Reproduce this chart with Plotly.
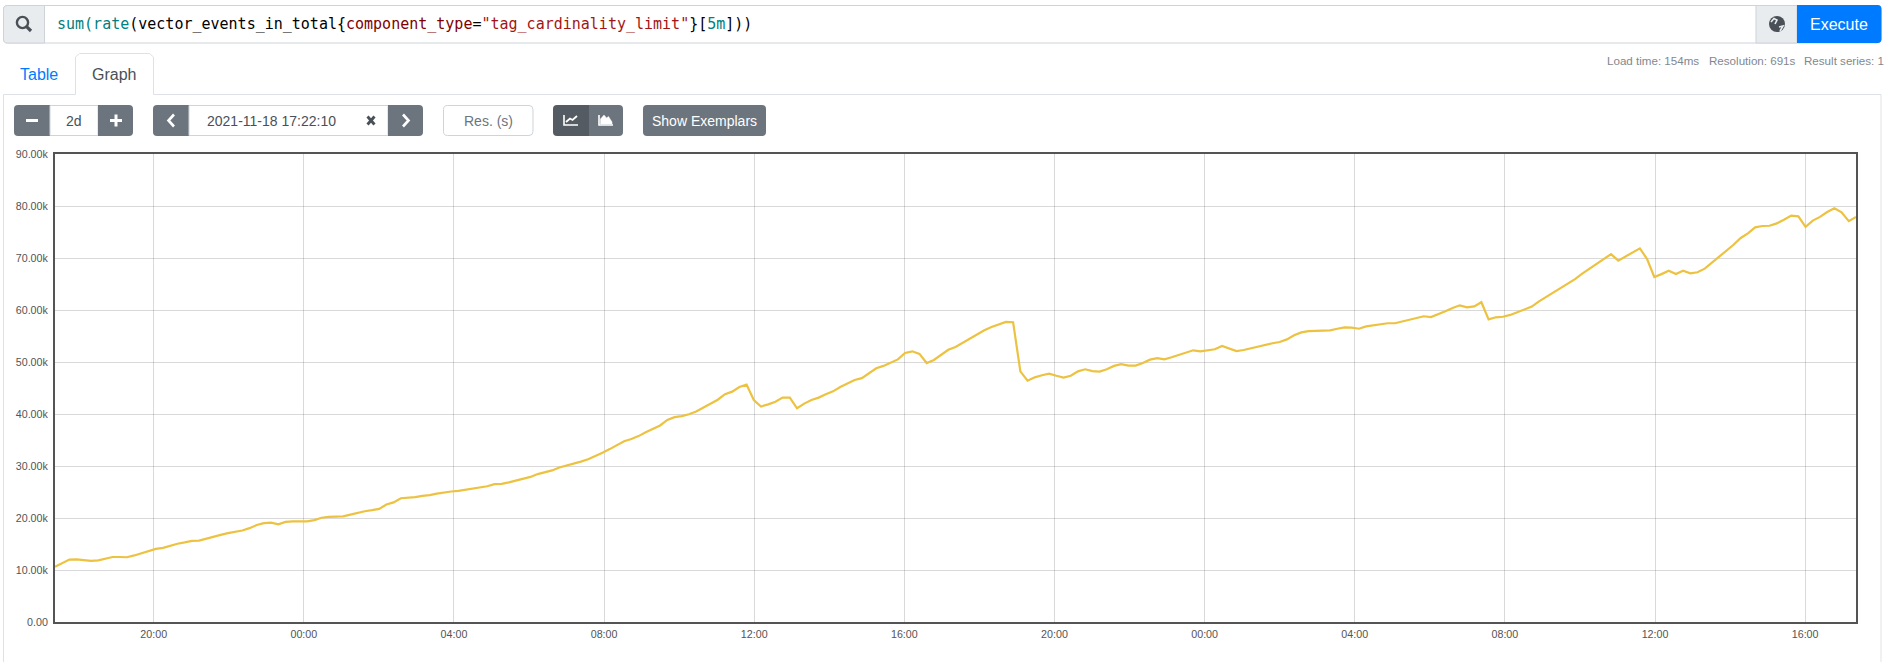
import pandas as pd
import plotly.graph_objects as go

START = "2021-11-16 17:22:10"
STEP_SECONDS = 691
events_k = [
10.64,11.35,12.0,12.05,11.85,11.75,11.85,12.25,12.5,12.5,12.45,12.8,13.25,13.6,14.05,14.25,14.7,15.05,15.3,15.6,15.65,
16.05,16.4,16.75,17.1,17.3,17.6,18.05,18.65,19.0,19.1,18.8,19.25,19.35,19.35,19.35,19.6,20.05,20.2,20.2,20.3,20.65,
21.0,21.3,21.5,21.75,22.6,23.0,23.8,23.9,24.0,24.25,24.4,24.7,24.95,25.1,25.2,25.4,25.6,25.85,26.1,26.5,26.55,26.85,
27.2,27.5,27.9,28.45,28.8,29.15,29.7,30.05,30.45,30.85,31.3,31.85,32.55,33.25,34.05,34.75,35.2,35.75,36.5,37.2,
37.8,38.85,39.4,39.6,39.95,40.5,41.2,42.0,42.75,43.8,44.3,45.2,45.65,42.7,41.45,41.85,42.35,43.15,43.15,41.1,42.0,
42.7,43.15,43.8,44.35,45.2,45.9,46.55,46.9,47.9,48.8,49.25,49.85,50.5,51.75,52.05,51.55,49.8,50.4,51.45,52.35,
52.9,53.7,54.55,55.3,56.1,56.75,57.2,57.7,57.65,48.2,46.4,47.05,47.45,47.75,47.35,47.0,47.35,48.2,48.6,48.25,48.15,
48.6,49.25,49.6,49.3,49.3,49.8,50.45,50.75,50.5,50.9,51.3,51.8,52.25,52.05,52.25,52.45,53.1,52.65,52.1,52.3,52.65,
53.0,53.35,53.6,53.85,54.35,55.15,55.7,55.95,56.0,55.95,56.1,56.4,56.65,56.6,56.4,56.85,57.05,57.3,57.45,57.45,
57.8,58.15,58.5,58.8,58.65,59.15,59.75,60.4,60.9,60.5,60.7,61.5,58.2,58.6,58.7,59.05,59.6,60.2,60.65,61.65,62.5,63.4,
64.15,65.15,65.95,67.0,67.95,68.9,69.85,70.75,69.5,70.25,71.0,71.85,69.8,66.35,66.9,67.55,66.9,67.55,67.05,67.25,
67.95,69.1,70.2,71.3,72.55,73.85,74.75,75.9,76.15,76.2,76.65,77.35,78.15,78.0,76.0,77.2,77.9,78.85,79.55,78.8,77.1,77.9,
]
y_tick_vals = [0, 10000, 20000, 30000, 40000, 50000, 60000, 70000, 80000, 90000]
y_tick_text = ["0.00", "10.00k", "20.00k", "30.00k", "40.00k", "50.00k", "60.00k", "70.00k", "80.00k", "90.00k"]
x_tick_vals = ["2021-11-16 20:00", "2021-11-17 00:00", "2021-11-17 04:00", "2021-11-17 08:00", "2021-11-17 12:00",
               "2021-11-17 16:00", "2021-11-17 20:00", "2021-11-18 00:00", "2021-11-18 04:00", "2021-11-18 08:00",
               "2021-11-18 12:00", "2021-11-18 16:00"]
x_tick_text = ["20:00", "00:00", "04:00", "08:00", "12:00", "16:00", "20:00", "00:00", "04:00", "08:00", "12:00", "16:00"]

W, H = 1886, 662
L, R, T, B = 55, 30, 154, 40
PW, PH = W - L - R, H - T - B
SANS = "Liberation Sans"
MONO = "DejaVu Sans Mono"


def X(p):
    return (p - L) / PW


def Y(p):
    return 1 - (p - T) / PH


shapes = []
annotations = []


def rrect(x0, y0, x1, y1, fill=None, line=None, r=(4, 4, 4, 4), lw=1):
    tl, tr, br, bl = r
    def pt(x, y):
        return f"{X(x):.6f} {Y(y):.6f}"
    d = f"M {pt(x0 + tl, y0)} L {pt(x1 - tr, y0)} Q {pt(x1, y0)} {pt(x1, y0 + tr)} "
    d += f"L {pt(x1, y1 - br)} Q {pt(x1, y1)} {pt(x1 - br, y1)} "
    d += f"L {pt(x0 + bl, y1)} Q {pt(x0, y1)} {pt(x0, y1 - bl)} "
    d += f"L {pt(x0, y0 + tl)} Q {pt(x0, y0)} {pt(x0 + tl, y0)} Z"
    shapes.append(dict(type="path", path=d, xref="paper", yref="paper", fillcolor=fill or "rgba(0,0,0,0)",
                       line=dict(color=line or "rgba(0,0,0,0)", width=lw if line else 0), layer="above"))


def poly(points, color, lw=2, closed=False, fill=None):
    d = "M " + " L ".join(f"{X(a):.6f} {Y(b):.6f}" for a, b in points)
    if closed:
        d += " Z"
    shapes.append(dict(type="path", path=d, xref="paper", yref="paper", fillcolor=fill or "rgba(0,0,0,0)",
                       line=dict(color=color, width=lw), layer="above"))


def circle(cx, cy, rad, fill=None, line=None, lw=1):
    shapes.append(dict(type="circle", xref="paper", yref="paper", x0=X(cx - rad), x1=X(cx + rad),
                       y0=Y(cy + rad), y1=Y(cy - rad), fillcolor=fill or "rgba(0,0,0,0)",
                       line=dict(color=line or "rgba(0,0,0,0)", width=lw if line else 0), layer="above"))


def text(x, y, s, size=14, color="#495057", anchor="center", font=SANS):
    annotations.append(dict(x=X(x), y=Y(y), xref="paper", yref="paper", text=s, showarrow=False, xanchor=anchor,
                            yanchor="middle", align="left", borderpad=0, borderwidth=0,
                            font=dict(family=font, size=size, color=color)))


BORDER = "#ced4da"
TAB = "#dee2e6"
GREY = "#6c757d"
DARK = "#545b62"
STAT = "#7f8890"

# query bar
rrect(3.5, 5.5, 1881, 43, fill="#ffffff", line=BORDER)
rrect(3.5, 5.5, 44.5, 43, fill="#e9ecef", line=BORDER, r=(4, 0, 0, 4))
circle(22.5, 22.5, 5.6, line="#495057", lw=2.4)
poly([(26.6, 26.6), (31, 31)], "#495057", lw=3.2)
rrect(1756, 5.5, 1797, 43, fill="#e9ecef", line=BORDER, r=(0, 0, 0, 0))
circle(1777, 24, 8, fill="#495057")
poly([(1771, 22), (1774, 18.5), (1777, 20), (1775, 24)], "#e9ecef", lw=1.6)
poly([(1779, 27), (1783, 26), (1780, 31)], "#e9ecef", lw=1.6)
rrect(1797, 5, 1881.5, 43, fill="#007bff", r=(0, 4, 4, 0))
text(1839, 24, "Execute", 16, "#ffffff")
query = ('<span style="color:#008080">sum(rate</span><span style="color:#000000">(vector_events_in_total</span>'
         '<span style="color:#000000">{</span><span style="color:#800000">component_type</span>'
         '<span style="color:#000000">=</span><span style="color:#a31515">"tag_cardinality_limit"</span>'
         '<span style="color:#000000">}[</span><span style="color:#008080">5m</span>'
         '<span style="color:#000000">]))</span>')
text(57, 24, query, 15, "#000000", "left", MONO)

# stats
text(1607, 60, "Load time: 154ms", 11.6, STAT, "left")
text(1709, 60, "Resolution: 691s", 11.6, STAT, "left")
text(1804, 60, "Result series: 1", 11.6, STAT, "left")

# tabs
poly([(3.5, 662), (3.5, 94.5), (75.5, 94.5)], TAB, lw=1)
poly([(153.5, 94.5), (1881, 94.5), (1881, 662)], TAB, lw=1)
poly([(75.5, 94.5), (75.5, 57), (79.5, 53.5), (149.5, 53.5), (153.5, 57), (153.5, 94.5)], TAB, lw=1)
text(39, 75, "Table", 16, "#007bff")
text(114, 75, "Graph", 16, "#495057")

# range controls
rrect(14, 105, 50, 136, fill=GREY, r=(4, 0, 0, 4))
rrect(50, 105.5, 98, 135.5, fill="#ffffff", line=BORDER, r=(0, 0, 0, 0))
rrect(98, 105, 133, 136, fill=GREY, r=(0, 4, 4, 0))
text(74, 121, "2d", 14, "#495057")
poly([(26, 120.5), (38, 120.5)], "#ffffff", lw=3)
poly([(110, 120.5), (122, 120.5)], "#ffffff", lw=3)
poly([(116, 114.5), (116, 126.5)], "#ffffff", lw=3)

rrect(153, 105, 189, 136, fill=GREY, r=(4, 0, 0, 4))
rrect(189, 105.5, 388, 135.5, fill="#ffffff", line=BORDER, r=(0, 0, 0, 0))
rrect(388, 105, 423, 136, fill=GREY, r=(0, 4, 4, 0))
text(271.5, 121, "2021-11-18 17:22:10", 14, "#495057")
poly([(174, 114.5), (168.5, 120.5), (174, 126.5)], "#ffffff", lw=2.6)
poly([(403, 114.5), (408.5, 120.5), (403, 126.5)], "#ffffff", lw=2.6)
poly([(367.5, 116.5), (374.5, 124.5)], "#495057", lw=2.8)
poly([(374.5, 116.5), (367.5, 124.5)], "#495057", lw=2.8)

rrect(443.5, 105.5, 533, 135.5, fill="#ffffff", line=BORDER)
text(488, 121, "Res. (s)", 14, GREY)

# chart type buttons
rrect(553, 105, 589, 136, fill=DARK, r=(4, 0, 0, 4))
rrect(589, 105, 623, 136, fill=GREY, r=(0, 4, 4, 0))
poly([(564, 115), (564, 125), (578, 125)], "#ffffff", lw=1.6)
poly([(566, 122), (570, 118.5), (572.5, 120), (577, 116)], "#ffffff", lw=1.8)
poly([(599, 115), (599, 125), (613, 125)], "#ffffff", lw=1.6)
poly([(600.5, 124), (600.5, 119), (604, 115), (606.5, 118), (608.5, 116.5), (612, 122), (612, 124)], "#ffffff", lw=0.5,
     closed=True, fill="#ffffff")

rrect(643, 105, 766, 136, fill=GREY)
text(704.5, 121, "Show Exemplars", 14, "#ffffff")

# series
times = pd.date_range(START, periods=len(events_k), freq=f"{STEP_SECONDS}s")
values = [v * 1000 for v in events_k]

fig = go.Figure(go.Scatter(x=times, y=values, mode="lines", line=dict(color="#edc240", width=2.2), showlegend=False))
GRID = "rgba(84,84,84,0.22)"
fig.update_layout(
    width=W, height=H, autosize=False,
    margin=dict(l=L, r=R, t=T, b=B, pad=0),
    paper_bgcolor="#ffffff", plot_bgcolor="#ffffff",
    showlegend=False, shapes=shapes, annotations=annotations,
    font=dict(family=SANS, size=10.7, color="#545454"),
    xaxis=dict(range=[times[0], times[-1]], tickmode="array", tickvals=x_tick_vals, ticktext=x_tick_text,
               showgrid=True, gridcolor=GRID, gridwidth=1, showline=True, linecolor="#545454", linewidth=2,
               mirror=True, ticks="", zeroline=False, ticklabelstandoff=1),
    yaxis=dict(range=[0, 90000], tickmode="array", tickvals=y_tick_vals, ticktext=y_tick_text,
               showgrid=True, gridcolor=GRID, gridwidth=1, showline=True, linecolor="#545454", linewidth=2,
               mirror=True, ticks="", zeroline=False, ticklabelstandoff=3),
)
fig.write_html("out.html", config=dict(displayModeBar=False),
               post_script="document.body.style.margin='0';document.body.style.overflow='hidden';")
